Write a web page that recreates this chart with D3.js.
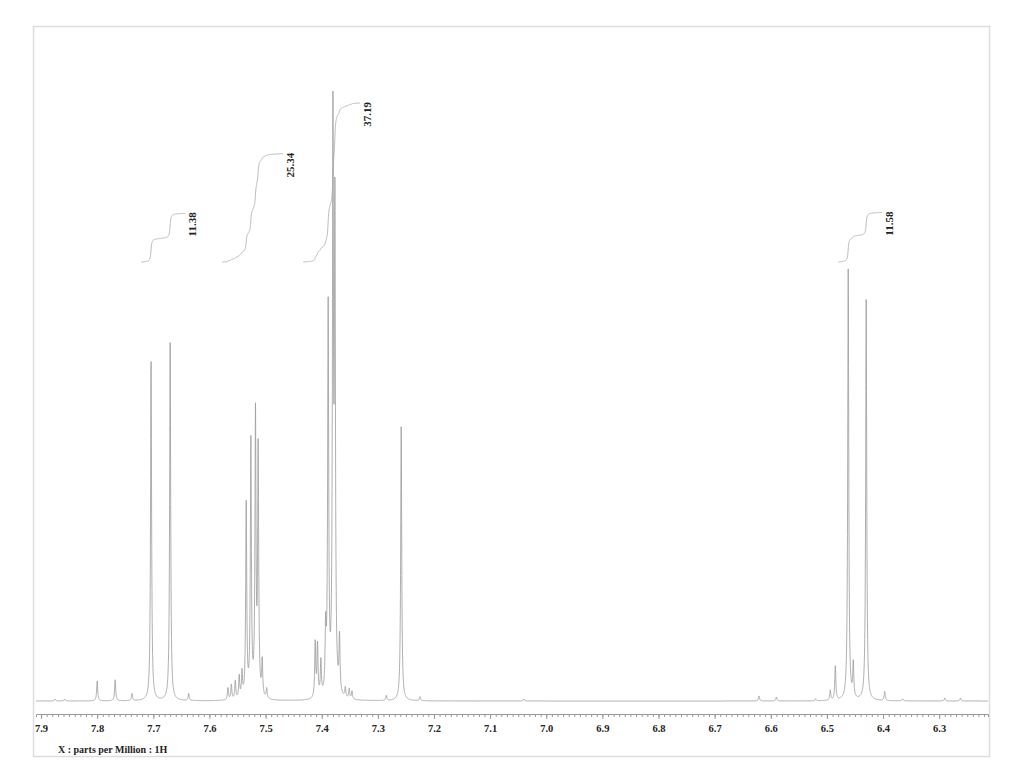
<!DOCTYPE html>
<html>
<head>
<meta charset="utf-8">
<script src="https://cdn.jsdelivr.net/npm/d3@7"></script>
<style>
  body { margin: 0; background: #fff; }
  svg { display: block; }
  .tick text { font-family: "Liberation Serif", serif; font-weight: bold; font-size: 10.5px; fill: #222; }
  .tick line { stroke: #999; }
</style>
</head>
<body>
<svg width="1024" height="778"></svg>
<script>
// peak list (ppm, height above baseline)
var peakPpm = [7.875, 7.858, 7.800, 7.768, 7.738, 7.704, 7.670, 7.637,
  7.567, 7.561, 7.554, 7.547, 7.542, 7.5345, 7.5262, 7.518, 7.5132, 7.506, 7.498,
  7.4116, 7.4075, 7.4015, 7.393, 7.3885, 7.380, 7.3765, 7.3683, 7.358, 7.351, 7.346,
  7.285, 7.2584, 7.225, 7.040,
  6.621, 6.590, 6.520, 6.494, 6.485, 6.462, 6.453, 6.430, 6.397, 6.365, 6.290, 6.262];
var peakHeight = [2, 2, 20, 21, 7, 339, 358, 7,
  12, 15, 18, 22, 25, 195, 255, 280, 245, 35, 10,
  55, 52, 35, 60, 390, 560, 470, 55, 10, 10, 8,
  5, 274, 4, 2,
  5, 4, 2, 10, 34, 431, 34, 401, 9, 2, 3, 3];

// integrals: region start/end (ppm) and value
var intStart = [7.7216, 7.5773, 7.4330, 6.4799];
var intEnd = [7.6432, 7.4686, 7.3320, 6.4015];
var intValue = [11.38, 25.34, 37.19, 11.58];

var majorTicks = [7.9, 7.8, 7.7, 7.6, 7.5, 7.4, 7.3, 7.2, 7.1, 7.0, 6.9, 6.8, 6.7, 6.6, 6.5, 6.4, 6.3];
var xLabel = "X : parts per Million : 1H";

var svg = d3.select("svg");

var x = d3.scaleLinear().domain([7.909, 6.213]).range([36, 988]);
var y = d3.scaleLinear().domain([0, 610]).range([701, 91]);
var yInt = d3.scaleLinear().domain([0, 40]).range([262, 91]);

var gamma = 0.0011;

// build the trace from the peak list (lorentzian lines)
var step = 0.0002;
var grid = d3.range(6.213, 7.909, step);
var spectrum = grid.map(function(p) {
  var s = 0;
  for (var i = 0; i < peakPpm.length; i++) {
    var d = p - peakPpm[i];
    s += peakHeight[i] * gamma * gamma / (gamma * gamma + d * d);
  }
  return [p, s];
});

// frame
svg.append("rect")
  .attr("x", 33.5).attr("y", 26.5)
  .attr("width", 956).attr("height", 730)
  .attr("fill", "none")
  .attr("stroke", "#ddd")
  .attr("stroke-width", 1.5);

var line = d3.line()
  .x(function(d) { return x(d[0]); })
  .y(function(d) { return y(d[1]); });

svg.append("path")
  .datum(spectrum)
  .attr("d", line)
  .attr("fill", "none")
  .attr("stroke", "#9a9a9a")
  .attr("stroke-width", 0.8);

// integral curves
intStart.forEach(function(s, i) {
  var pts = spectrum.filter(function(d) { return d[0] <= s && d[0] >= intEnd[i]; })
    .sort(function(a, b) { return b[0] - a[0]; });
  var total = d3.sum(pts, function(d) { return d[1]; });
  var acc = 0;
  var curve = pts.map(function(d) {
    acc += d[1];
    return [x(d[0]), yInt(acc / total * intValue[i])];
  });
  svg.append("path")
    .attr("d", d3.line()(curve))
    .attr("fill", "none")
    .attr("stroke", "#a8a8a8")
    .attr("stroke-width", 0.8);

  var ex = x(intEnd[i]) + 11, ey = yInt(intValue[i]) - 1;
  svg.append("text")
    .attr("transform", "translate(" + ex + "," + ey + ") rotate(-90)")
    .attr("text-anchor", "end")
    .attr("font-family", "Liberation Serif, serif")
    .attr("font-weight", "bold")
    .attr("font-size", 11)
    .attr("fill", "#222")
    .text(d3.format(".2f")(intValue[i]));
});

// axis
var minor = d3.range(63, 791).map(function(v) { return v / 100; })
  .filter(function(v) { return v >= 6.22 && v <= 7.90; });

svg.append("g")
  .attr("transform", "translate(0,714)")
  .call(d3.axisBottom(x).tickValues(minor).tickSize(3).tickFormat(""))
  .call(function(g) { g.select(".domain").attr("stroke", "#999"); });

svg.append("g")
  .attr("transform", "translate(0,714)")
  .call(d3.axisBottom(x).tickValues(majorTicks).tickSize(5).tickSizeOuter(0).tickFormat(d3.format(".1f")))
  .call(function(g) { g.select(".domain").remove(); })
  .call(function(g) { g.selectAll("text").attr("dy", "0.95em"); });

svg.append("text")
  .attr("x", 58).attr("y", 753)
  .attr("font-family", "Liberation Serif, serif")
  .attr("font-weight", "bold")
  .attr("font-size", 10)
  .attr("fill", "#222")
  .text(xLabel);
</script>
</body>
</html>
